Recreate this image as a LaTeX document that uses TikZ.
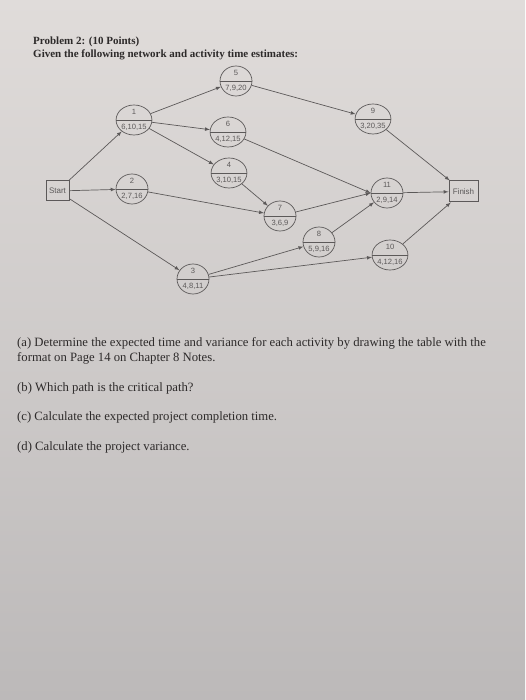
\documentclass[tikz,border=0pt]{standalone}
\usepackage{fontspec}
\setmainfont{Liberation Serif}
\setsansfont{Liberation Sans}
\usetikzlibrary{shapes.geometric}
\definecolor{ink}{RGB}{45,42,42}
\definecolor{pencil}{RGB}{92,89,89}
\definecolor{papertop}{RGB}{224,220,218}
\definecolor{paperbot}{RGB}{188,185,185}

\begin{document}
\begin{tikzpicture}[x=1pt,y=-1pt,>=latex,
  act/.style={ellipse, draw=pencil, line width=0.7pt, minimum width=32pt,
    minimum height=30pt, inner sep=0pt, text=pencil, align=center,
    font=\sffamily\fontsize{7.6}{14.5}\selectfont,
    path picture={\draw[pencil, line width=0.7pt]
      (path picture bounding box.west) -- (path picture bounding box.east);}},
  term/.style={draw=pencil, line width=1pt, inner sep=1pt, text=pencil,
    font=\sffamily\fontsize{8}{9}\selectfont},
  link/.style={->, draw=pencil, line width=0.7pt},
  prose/.style={anchor=west, inner sep=0pt, text=ink, align=left}]
  \shade[top color=papertop, bottom color=paperbot] (0,0) rectangle (525,700);
  \useasboundingbox (0,0) rectangle (525,700);

  \node[prose, font=\bfseries\fontsize{11}{12.5}\selectfont] (head) at (33,48.5)
    {Problem 2: (10 Points)\\Given the following network and activity time estimates:};

  \node[term, minimum width=23pt, minimum height=20pt] (start) at (57.5,191) {Start};
  \node[term, minimum width=29pt, minimum height=21pt] (finish) at (463.5,191.5) {Finish};
  \node[act] (a1) at (134,120) {1\\6,10,15};
  \node[act] (a2) at (132,189) {2\\2,7,16};
  \node[act] (a3) at (193,279) {3\\4,8,11};
  \node[act] (a4) at (229,173) {4\\3,10,15};
  \node[act] (a5) at (236,81) {5\\7,9,20};
  \node[act] (a6) at (228,132) {6\\4,12,15};
  \node[act] (a7) at (280,216) {7\\3,6,9};
  \node[act] (a8) at (319,242) {8\\5,9,16};
  \node[act] (a9) at (373,119) {9\\3,20,35};
  \node[act] (a10) at (390,255) {10\\4,12,16};
  \node[act] (a11) at (387,193) {11\\2,9,14};

  \draw[link] (start) -- (a1);
  \draw[link] (start) -- (a2);
  \draw[link] (start) -- (a3);
  \draw[link] (a1) -- (a5);
  \draw[link] (a1) -- (a6);
  \draw[link] (a1) -- (a4);
  \draw[link] (a5) -- (a9);
  \draw[link] (a6) -- (a11.west);
  \draw[link] (a4) -- (a7);
  \draw[link] (a2) -- (a7);
  \draw[link] (a7) -- (a11.west);
  \draw[link] (a3) -- (a8);
  \draw[link] (a3) -- (a10);
  \draw[link] (a8) -- (a11);
  \draw[link] (a9) -- (finish);
  \draw[link] (a11) -- (finish);
  \draw[link] (a10) -- (finish);

  \node[prose, font=\fontsize{12.7}{15}\selectfont] (qa) at (17,351)
    {(a) Determine the expected time and variance for each activity by drawing the table with the\\
     format on Page 14 on Chapter 8 Notes.};
  \node[prose, font=\fontsize{12.7}{15}\selectfont] (qb) at (17,388) {(b) Which path is the critical path?};
  \node[prose, font=\fontsize{12.7}{15}\selectfont] (qc) at (17,417) {(c) Calculate the expected project completion time.};
  \node[prose, font=\fontsize{12.7}{15}\selectfont] (qd) at (17,447) {(d) Calculate the project variance.};
\end{tikzpicture}
\end{document}
